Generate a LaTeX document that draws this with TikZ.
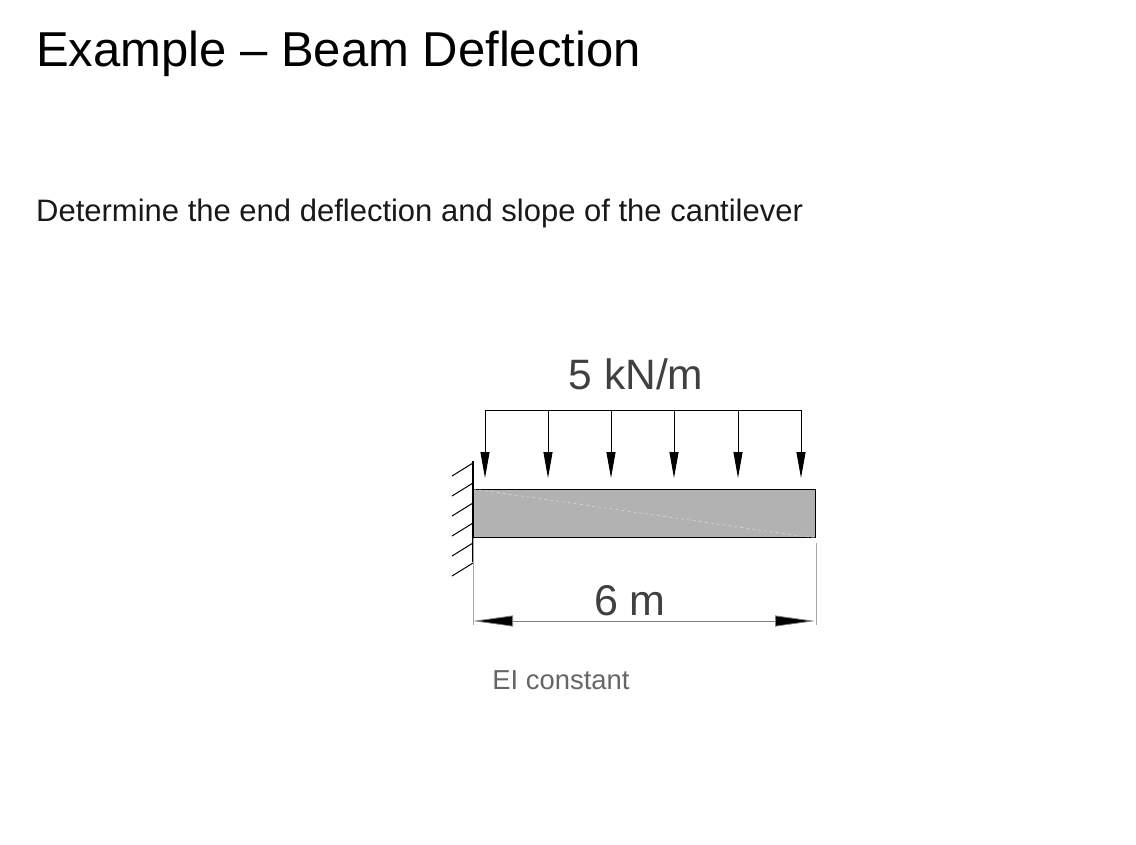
\documentclass[tikz,border=0pt]{standalone}
\usepackage{fontspec}
\setmainfont{Liberation Sans}
\usetikzlibrary{arrows.meta}
\begin{document}
\begin{tikzpicture}[x=1pt,y=-1pt,
  load/.style={-{Triangle[length=26pt,width=9pt]},line width=1pt},
  dim/.style={draw=gray,line width=0.8pt},
  ext/.style={draw=gray!70,line width=0.6pt}]
\useasboundingbox (0,0) rectangle (1136,844);
\node[anchor=base west,font=\fontsize{49}{55}\selectfont,inner sep=0] (title) at (36,66) {Example – Beam Deflection};
\node[anchor=base west,font=\fontsize{31}{35}\selectfont,inner sep=0,text=black!90] (sub) at (36,221) {Determine the end deflection and slope of the cantilever};
% beam
\node[draw=black,line width=1.2pt,fill=black!30,minimum width=342pt,minimum height=48pt,inner sep=0,anchor=north west] (beam) at (473,489) {};
\draw[white!80!gray,dashed,line width=0.4pt] (beam.north west) -- (beam.south east);
% wall
\coordinate (wt) at (473,461); \coordinate (wb) at (473,562);
\draw[line width=1.2pt] (wt) -- (wb);
\foreach \y in {463,483,503,523,543,563}
  \draw[line width=1pt] (473,\y) -- ++(-21,13);
% load
\coordinate (l1) at (485,410); \coordinate (l6) at (801,410);
\draw[line width=1pt] (l1) -- (l6);
\foreach \x in {485,548,611,674,738,801}
  \draw[load] (\x,410) -- (\x,478);
\node[font=\fontsize{42.5}{48}\selectfont,text=black!75,anchor=base] (q) at (636,389) {5 kN/m};
% dimension
\coordinate (d1) at (473,621); \coordinate (d2) at (815,621);
\draw[ext] (beam.south west) -- ++(0,87);
\draw[ext] (beam.south east) ++(0,5) -- ++(0,82);
\draw[dim,{Triangle[length=40pt,width=11pt,fill=black]}-{Triangle[length=40pt,width=11pt,fill=black]}] (d1) -- (d2);
\node[font=\fontsize{43}{48}\selectfont,text=black!75,anchor=base] (len) at (630,615) {6 m};
\node[font=\fontsize{27.4}{31}\selectfont,text=black!60,anchor=base] (ei) at (561,689) {EI constant};
\end{tikzpicture}
\end{document}
